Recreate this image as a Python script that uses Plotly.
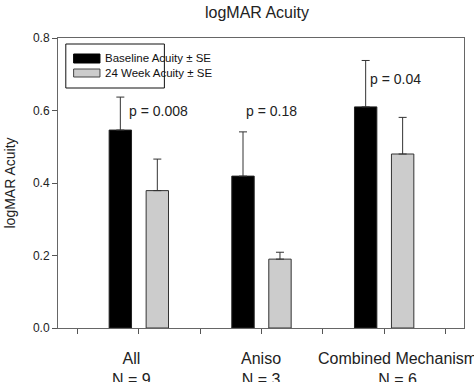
import plotly.graph_objects as go

# ---- data ----
categories = ["All", "Aniso", "Combined Mechanism"]
n_values = [9, 3, 6]
baseline = [0.546, 0.419, 0.610]
baseline_se = [0.091, 0.122, 0.128]
week24 = [0.379, 0.190, 0.480]
week24_se = [0.087, 0.019, 0.101]
p_values = ["p = 0.008", "p = 0.18", "p = 0.04"]
y_ticks = [0.0, 0.2, 0.4, 0.6, 0.8]

FONT = "Liberation Sans, Arial, sans-serif"
x_pos = list(range(len(categories)))

fig = go.Figure()
fig.add_trace(go.Bar(
    x=x_pos, y=baseline, name="Baseline Acuity ± SE",
    marker=dict(color="#000000", line=dict(color="#222222", width=1)),
    error_y=dict(type="data", symmetric=False, array=baseline_se,
                 arrayminus=[0] * len(baseline_se),
                 color="#333333", thickness=1, width=4),
    showlegend=False,
))
fig.add_trace(go.Bar(
    x=x_pos, y=week24, name="24 Week Acuity ± SE",
    marker=dict(color="#cccccc", line=dict(color="#333333", width=1)),
    error_y=dict(type="data", symmetric=False, array=week24_se,
                 arrayminus=[0] * len(week24_se),
                 color="#333333", thickness=1, width=4),
    showlegend=False,
))

# p-value annotations (positioned above bars)
p_y = [0.6, 0.6, 0.687]
p_x = [-0.1, 0.86, 1.87]
annotations = []
for px_, py_, t in zip(p_x, p_y, p_values):
    annotations.append(dict(x=px_, y=py_, xref="x", yref="y", text=t,
                            showarrow=False, xanchor="left", yanchor="middle",
                            font=dict(size=14, color="#222222", family=FONT)))

# category labels
label_shift = [-7, 0, 13]
for xi, cat, n, sh in zip(x_pos, categories, n_values, label_shift):
    annotations.append(dict(x=xi, y=0, xref="x", yref="y",
                            text=f"{cat}<br>N = {n}", showarrow=False,
                            xanchor="center", yanchor="top", yshift=-20, xshift=sh,
                            font=dict(size=16, color="#222222", family=FONT)))

# custom legend
L, R, T, B = 49, 465, 38, 328
def px2x(p):
    return (p - L) / (R - L)
def py2y(p):
    return (B - p) / (B - T)

shapes = [
    dict(type="rect", xref="paper", yref="paper",
         x0=px2x(57), x1=px2x(158), y0=py2y(88), y1=py2y(44),
         line=dict(color="#111111", width=1), fillcolor="white", layer="above"),
    dict(type="rect", xref="paper", yref="paper",
         x0=px2x(65), x1=px2x(92), y0=py2y(63), y1=py2y(54),
         line=dict(color="#000000", width=1), fillcolor="#000000", layer="above"),
    dict(type="rect", xref="paper", yref="paper",
         x0=px2x(65), x1=px2x(92), y0=py2y(77), y1=py2y(69),
         line=dict(color="#444444", width=1), fillcolor="#cccccc", layer="above"),
]
for ty, name in zip([58.5, 73], ["Baseline Acuity ± SE", "24 Week Acuity ± SE"]):
    annotations.append(dict(x=px2x(95), y=py2y(ty), xref="paper", yref="paper",
                            text=name, showarrow=False, xanchor="left", yanchor="middle",
                            font=dict(size=11.5, color="#111111", family=FONT)))

fig.update_layout(
    width=474, height=382,
    margin=dict(l=49, r=9, t=38, b=54),
    paper_bgcolor="white", plot_bgcolor="white",
    barmode="group", bargap=0.397, bargroupgap=0.395,
    font=dict(family=FONT, color="#222222"),
    title=dict(text="logMAR Acuity", x=(L + R) / 2 / 474, xanchor="center",
               y=1 - 12 / 382, yanchor="middle",
               font=dict(size=16, color="#222222", family=FONT)),
    annotations=annotations,
    shapes=shapes,
)
fig.update_xaxes(
    range=[-0.659, 2.651],
    tickvals=[-0.5, 0, 0.5, 1, 1.5, 2, 2.5],
    ticktext=[""] * 7,
    ticks="outside", ticklen=5, tickcolor="#555555", tickwidth=1,
    showline=True, linecolor="#666666", linewidth=1, mirror=True,
    showgrid=False, zeroline=False,
)
fig.update_yaxes(
    range=[0, 0.8],
    tickvals=y_ticks, ticktext=[f"{v:.1f}" for v in y_ticks],
    ticks="outside", ticklen=5, tickcolor="#555555", tickwidth=1,
    showline=True, linecolor="#666666", linewidth=1, mirror=True,
    showgrid=False, zeroline=False,
    tickfont=dict(size=12, color="#222222", family=FONT),
    title=dict(text="logMAR Acuity", standoff=14,
               font=dict(size=14, color="#222222", family=FONT)),
)

fig.write_html("out.html",
               config={"displayModeBar": False},
               post_script="document.body.style.margin='0';document.body.style.overflow='hidden';")
